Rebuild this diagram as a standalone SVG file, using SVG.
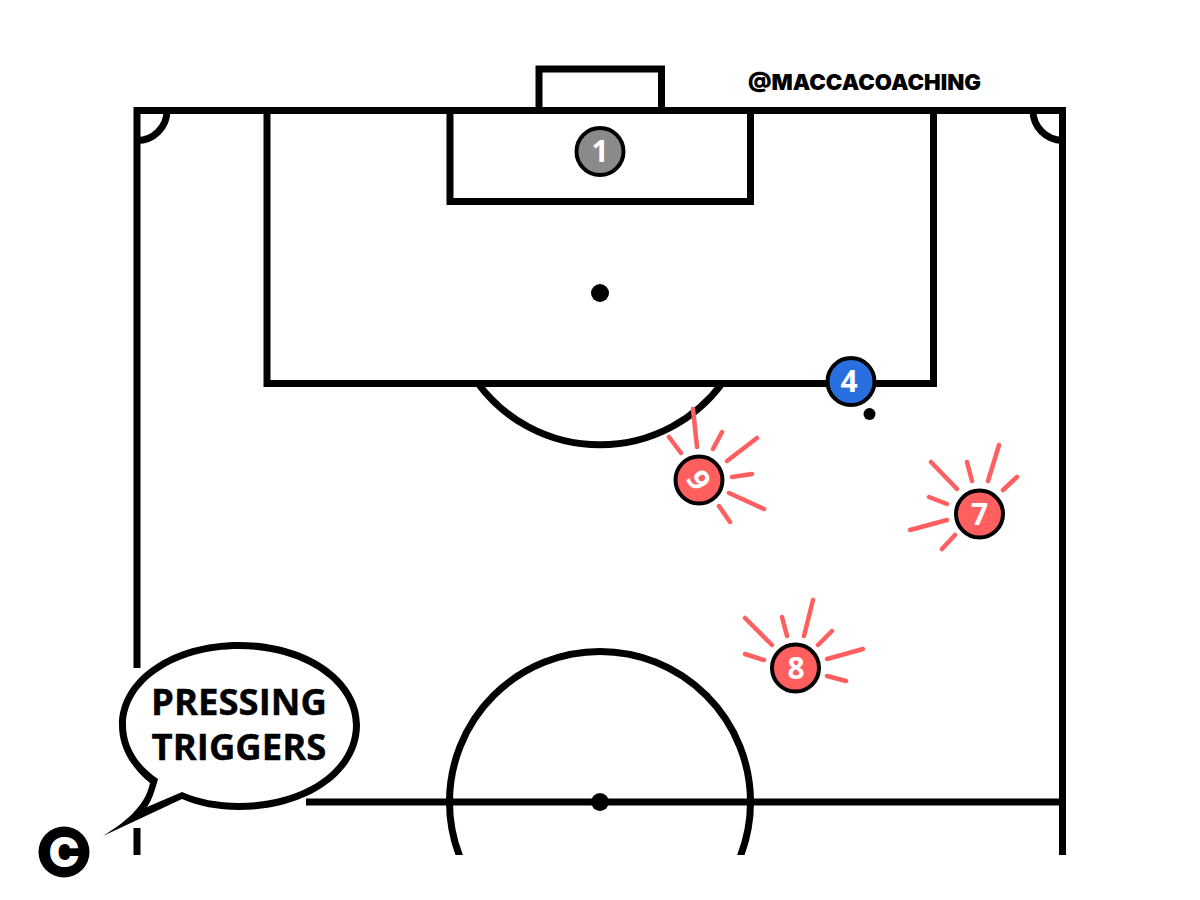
<svg xmlns="http://www.w3.org/2000/svg" width="1200" height="900" viewBox="0 0 1200 900">
<style>
.l{fill:none;stroke:#000;stroke-width:7}
.r{stroke:#ff5f5f;stroke-width:4.500;stroke-linecap:round;fill:none}
.p{stroke:#000;stroke-width:4}
.n{font-family:"Open Sans","Noto Sans",sans-serif;font-weight:700;font-size:30px;fill:#fff;text-anchor:middle}
.b{font-family:"Open Sans","Noto Sans",sans-serif;font-weight:700;font-size:36.500px;fill:#000;stroke:#000;stroke-width:.4;text-anchor:middle}
</style>
<defs><clipPath id="cut"><rect x="0" y="600" width="1200" height="255"/></clipPath></defs>
<rect width="1200" height="900" fill="#fff"/>
<g id="connectors"></g>
<g id="pitch">
<path class="l" d="M137 668V110.500H1062.500V855M137 828V855M306 802H1062"/>
<path class="l" d="M267 110.500V383.500H933.500V110.500M450 110.500V201.500H750.500V110.500M539 110.500V69H661.500V110.500"/>
<path class="l" d="M167 110.500A30 30 0 0 1 137 140.500M1033 110.500A30 30 0 0 0 1062.500 140.500"/>
<path class="l" d="M478 383.500A152 152 0 0 0 722 383.500"/>
<circle class="l" cx="600" cy="802" r="150.500" clip-path="url(#cut)"/>
<circle cx="600" cy="293" r="9"/>
<circle cx="600" cy="802" r="9"/>
</g>
<g id="brand">
<text x="748" y="90" font-family="Inter,sans-serif" font-weight="900" font-size="22px" textLength="233" lengthAdjust="spacingAndGlyphs">@MACCACOACHING</text>
<circle cx="64" cy="852" r="25.500"/>
<text x="64" y="867" font-family="Inter,sans-serif" font-weight="900" font-size="41px" fill="#fff" text-anchor="middle">C</text>
</g>
<g id="bubble">
<path fill="#000" d="M103 836C122 824 145 808 150 783C128 765 119 745 119 725C119 678 172 642 239 642C306 642 360 678 360 725C360 774 306 810 239 810C218 810 198 806 182 799Z"/>
<path fill="#fff" d="M158 779C155 790 152 800 147 807L182 792C198 799 218 803 239 803C302 803 353 770 353 725C353 682 302 649 239 649C176 649 126 682 126 725C126 745 136 764 158 779Z"/>
<text class="b" x="239" y="715">PRESSING</text>
<text class="b" x="239" y="760">TRIGGERS</text>
</g>
<g id="rays-9">
<path class="r" d="M693 409L697 447M669 437L681 453M722 432L713 449M757 438L727 461M752 474L732 477M764 509L729 493M730 522L719 506"/>
</g>
<g id="rays-7">
<path class="r" d="M999 445L988 481M967 462L972 481M931 462L957 489M929 497L947 504M947 520L910 530M955 535L942 549M1017 477L1003 490"/>
</g>
<g id="rays-8">
<path class="r" d="M813 600L804 636M782 617L787 636M745 618L772 645M745 654L764 660M863 649L827 659M832 631L818 645M827 676L846 681"/>
</g>
<g id="player-1"><circle class="p" cx="600" cy="151.500" r="23.500" fill="#8a8a8a"/><text class="n" x="600" y="162">1</text></g>
<g id="player-4"><circle class="p" cx="851" cy="381.500" r="23.500" fill="#2a6fe0"/><text class="n" x="849" y="392">4</text></g>
<g id="ball"><circle cx="869.500" cy="414" r="6"/></g>
<g id="player-9"><circle class="p" cx="699" cy="480" r="23.500" fill="#ff5f5f"/><text class="n" x="0" y="11" transform="translate(699 480) rotate(60)">9</text></g>
<g id="player-7"><circle class="p" cx="979.500" cy="514" r="23.500" fill="#ff5f5f"/><text class="n" x="979.500" y="525">7</text></g>
<g id="player-8"><circle class="p" cx="795.500" cy="668" r="23.500" fill="#ff5f5f"/><text class="n" x="796" y="679">8</text></g>
</svg>
